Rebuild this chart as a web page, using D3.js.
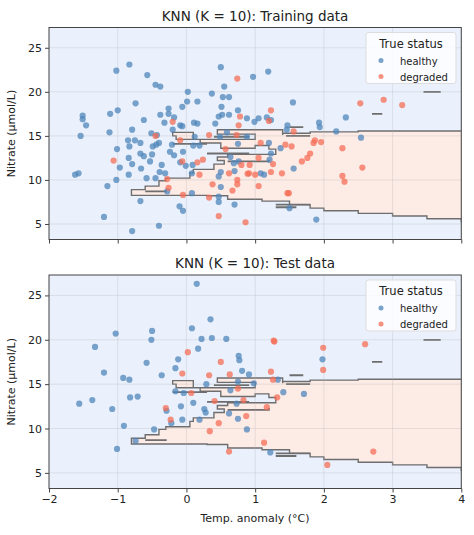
<!DOCTYPE html>
<html><head><meta charset="utf-8">
<script src="https://cdn.jsdelivr.net/npm/d3@7"></script>
<style>body{margin:0;background:#fff}svg{display:block;font-family:"DejaVu Sans",sans-serif}</style>
</head><body><div id="chart"></div>
<script>
"use strict";

const xTicks = [-2, -1, 0, 1, 2, 3, 4];
const yTicks = [5, 10, 15, 20, 25];

// decision region (degraded) outline, data coords
const degradedRegion = [[4,15.55],[2.5,15.45],[1.8,15.3],[1.4,15.1],[1.4,15.7],[0.45,15.6],[0.45,15.2],[1.0,15.1],[1.0,14.6],[0.2,14.6],[0.1,15.4],[-0.2,15.0],[-0.15,14.6],[0.2,14.2],[0.5,13.6],[1.0,13.9],[1.2,13.5],[1.3,12.9],[0.6,12.6],[0.45,12.2],[0.55,11.8],[0.4,11.2],[0.1,10.8],[0.05,10.2],[-0.3,9.9],[-0.4,9.3],[-0.6,8.9],[-0.8,8.4],[-0.8,8.25],[0.3,8.2],[0.6,7.8],[1.1,7.6],[1.5,7.2],[1.8,6.8],[2.0,6.5],[2.5,6.2],[3.0,5.9],[3.5,5.6],[4,5.2]];
const extraLines = [
  [[3.45,20],[3.7,20]], [[2.7,17.5],[2.85,17.5]], [[1.5,16],[1.7,16]],
  [[1.3,7.2],[1.8,7.2]], [[1.3,6.9],[1.6,6.9]], [[1.45,15],[1.8,15]],
  [[0.3,13.0],[0.9,13.1]], [[-0.2,14.1],[0.3,14.1]], [[0.6,12.1],[1.2,12.3]],
  [[-0.6,8.7],[-0.3,8.8]], [[0.4,14.9],[0.9,14.8]]
];

const trainHealthy = [[-1.62,10.6],[-1.57,10.75],[-1.54,15.0],[-1.51,17.3],[-1.51,16.9],[-1.46,16.2],[-1.2,5.8],[-1.15,9.3],[-1.12,15.4],[-1.11,17.5],[-1.02,22.4],[-1.02,10],[-1.01,13.5],[-1.0,17.9],[-0.97,11.4],[-0.83,23.1],[-0.84,12.5],[-0.83,13.8],[-0.85,14.5],[-0.84,10.6],[-0.79,15.7],[-0.79,11.8],[-0.79,4.2],[-0.74,18.7],[-0.75,14.5],[-0.67,14.2],[-0.67,13.0],[-0.66,11.3],[-0.67,7.6],[-0.62,12.7],[-0.62,16.8],[-0.58,10.2],[-0.57,21.9],[-0.53,12.1],[-0.51,15.3],[-0.5,12.9],[-0.49,13.8],[-0.45,20.8],[-0.43,15.1],[-0.45,10.2],[-0.44,14.0],[-0.4,4.8],[-0.39,10.9],[-0.38,20.6],[-0.38,17.4],[-0.4,14.2],[-0.36,11.7],[-0.32,16.5],[-0.31,10.75],[-0.28,8.7],[-0.26,18.1],[-0.26,17.5],[-0.24,13.2],[-0.21,14.0],[-0.18,17.1],[-0.2,15.7],[-0.18,12.8],[-0.1,7.0],[-0.09,16.2],[-0.06,18.3],[-0.06,16.1],[-0.05,13.2],[-0.05,6.5],[-0.09,12.0],[0.02,20],[0.01,18.9],[-0.01,11.6],[0.11,16.5],[0.12,14.9],[0.1,13.9],[0.08,10.75],[0.09,11.7],[0.08,8.5],[0.16,18.9],[0.16,16.4],[0.19,13.9],[0.37,19.8],[0.42,16.4],[0.47,17.2],[0.5,22.8],[0.51,18.3],[0.49,14.9],[0.5,10.9],[0.47,10.4],[0.5,9.2],[0.47,8.1],[0.47,7.5],[0.55,20.6],[0.53,19.4],[0.52,17.4],[0.59,15.4],[0.62,17.4],[0.62,19.4],[0.64,12.6],[0.7,11.0],[0.69,11.9],[0.75,17.9],[0.75,14.1],[0.7,7.2],[0.76,12.1],[0.88,14.9],[0.88,17.0],[0.97,21.7],[0.99,16.6],[1.05,17.0],[1.08,10.75],[1.13,10.6],[1.17,17.1],[1.19,22.3],[1.2,14.2],[1.21,12.3],[1.23,13.0],[1.23,16.8],[1.37,13.6],[1.47,16.2],[1.46,15.7],[1.5,6.8],[1.55,18.8],[1.56,11.3],[1.89,5.5],[1.93,16.5],[1.94,16.0],[2.18,15.5],[2.32,17.1],[2.54,14.8]];
const trainDegraded = [[-1.06,12.2],[-0.45,15.0],[-0.2,16.6],[-0.28,10.1],[-0.26,9.1],[-0.09,14.5],[-0.06,12.1],[-0.05,8.3],[0.16,12.0],[0.19,10.6],[0.24,12.3],[0.33,15.1],[0.33,8.0],[0.38,9.5],[0.47,5.9],[0.57,13.5],[0.62,10.75],[0.67,8.8],[0.74,10.0],[0.74,9.5],[0.74,21.5],[0.73,15.1],[0.76,16.2],[0.78,17.2],[0.8,11.7],[0.86,5.2],[0.91,10.75],[0.92,11.7],[0.89,10.7],[1.0,10.6],[1.05,9.3],[1.05,12.5],[1.08,14.2],[1.23,17.9],[1.2,16.7],[1.23,10.9],[1.26,11.8],[1.39,10.75],[1.44,14.0],[1.47,8.5],[1.49,8.5],[1.53,13.8],[1.56,15.5],[1.68,12.1],[1.76,12.5],[1.8,13.0],[1.85,14.2],[1.87,14.5],[1.96,14.3],[2.27,13.6],[2.27,10.45],[2.3,9.8],[2.53,18.7],[2.56,11.4],[2.87,19.1],[3.14,18.5]];
const testHealthy = [[-1.56,12.8],[-1.37,13.2],[-1.33,19.2],[-1.2,16.3],[-1.08,12.2],[-1.03,20.7],[-1.01,7.7],[-0.92,15.7],[-0.91,10.3],[-0.83,15.5],[-0.82,13.5],[-0.71,13.6],[-0.74,8.6],[-0.58,17.4],[-0.5,21.0],[-0.51,20.0],[-0.47,9.9],[-0.36,16.0],[-0.29,12.0],[-0.22,10.6],[-0.16,14.2],[-0.16,16.8],[-0.12,17.8],[-0.08,12.5],[-0.06,11.0],[-0.04,14.0],[0.08,21.3],[0.1,12.9],[0.15,26.3],[0.17,19.0],[0.19,11.0],[0.22,20.1],[0.26,12.2],[0.28,11.8],[0.29,15.0],[0.35,22.3],[0.37,20.2],[0.58,20.1],[0.62,11.7],[0.64,14.3],[0.73,12.8],[0.75,15.3],[0.76,18.2],[0.77,17.7],[0.75,11.1],[0.81,16.5],[0.88,9.9],[0.91,16.1],[0.98,15.1],[1.22,7.3],[1.33,15.5],[1.41,14.1],[1.71,13.9],[1.98,17.8]];
const testDegraded = [[-0.3,12.3],[-0.23,11.0],[0.02,18.6],[-0.06,16.2],[0.07,14.0],[0.33,16.0],[0.34,9.7],[0.41,13.1],[0.47,10.6],[0.5,17.5],[0.63,16.1],[0.62,7.4],[0.75,14.5],[0.83,13.2],[0.87,11.4],[1.13,8.4],[1.17,12.4],[1.23,16.4],[1.27,19.9],[1.28,19.8],[1.26,15.5],[1.32,13.5],[1.99,19.1],[1.99,16.6],[2.05,5.9],[2.6,19.5],[2.72,7.4]];

const W = 474, H = 535;
const svg = d3.select("#chart").append("svg").attr("width", W).attr("height", H);
const x = d3.scaleLinear().domain([-2, 4]).range([49, 461.3]);

function drawPanel(top, bottom, title, healthy, degraded, showX, id) {
  const y = d3.scaleLinear().domain([3.24, 27.3]).range([bottom, top]);
  const g = svg.append("g");
  g.append("clipPath").attr("id", id).append("rect")
    .attr("x", 49).attr("y", top).attr("width", 412.3).attr("height", bottom - top);
  const inner = g.append("g").attr("clip-path", `url(#${id})`);
  inner.append("rect").attr("x", 49).attr("y", top).attr("width", 412.3).attr("height", bottom - top).attr("fill", "#eaf1fc");
  const line = d3.line().x(d => x(d[0])).y(d => y(d[1])).curve(d3.curveStepAfter);
  const poly = degradedRegion.concat([[4.1, 5.2], [4.1, 15.55]]);
  inner.append("path").attr("d", line(poly) + "Z").attr("fill", "#fdebe6");
  inner.append("path").attr("d", line(degradedRegion)).attr("fill", "none").attr("stroke", "#6e6e6e").attr("stroke-width", 1.4);
  extraLines.forEach(l => inner.append("path").attr("d", line(l)).attr("fill", "none").attr("stroke", "#6e6e6e").attr("stroke-width", 1.8));

  // grid
  xTicks.forEach(t => inner.append("line").attr("x1", x(t)).attr("x2", x(t)).attr("y1", top).attr("y2", bottom).attr("stroke", "#b0b0b0").attr("stroke-opacity", 0.35).attr("stroke-width", 0.8));
  yTicks.forEach(t => inner.append("line").attr("x1", 49).attr("x2", 461.3).attr("y1", y(t)).attr("y2", y(t)).attr("stroke", "#b0b0b0").attr("stroke-opacity", 0.35).attr("stroke-width", 0.8));

  inner.selectAll(".h").data(healthy).join("circle").attr("cx", d => x(d[0])).attr("cy", d => y(d[1])).attr("r", 3.1).attr("fill", "#4f86bb").attr("fill-opacity", 0.75);
  inner.selectAll(".d").data(degraded).join("circle").attr("cx", d => x(d[0])).attr("cy", d => y(d[1])).attr("r", 3.1).attr("fill", "#f46e55").attr("fill-opacity", 0.75);

  g.append("rect").attr("x", 49).attr("y", top).attr("width", 412.3).attr("height", bottom - top).attr("fill", "none").attr("stroke", "#444").attr("stroke-width", 1);

  const ax = g.append("g").attr("transform", `translate(0,${bottom})`)
    .call(d3.axisBottom(x).tickValues(xTicks).tickSize(4).tickFormat(showX ? (d => d < 0 ? "\u2212" + Math.abs(d) : d) : ""));
  const ay = g.append("g").attr("transform", "translate(49,0)")
    .call(d3.axisLeft(y).tickValues(yTicks).tickSize(4));
  [ax, ay].forEach(a => { a.select(".domain").remove(); a.selectAll("text").attr("font-size", 11).attr("fill", "#222").attr("font-family", "DejaVu Sans"); a.selectAll("line").attr("stroke", "#444"); });

  g.append("text").attr("x", 255).attr("y", top - 7).attr("text-anchor", "middle").attr("font-size", 13.5).attr("fill", "#222").text(title);
  g.append("text").attr("transform", `translate(15,${(top + bottom) / 2}) rotate(-90)`).attr("text-anchor", "middle").attr("font-size", 11).attr("fill", "#222").text("Nitrate (\u00b5mol/L)");

  // legend
  const lg = g.append("g").attr("transform", `translate(366,${top + 5})`);
  lg.append("rect").attr("width", 90).attr("height", 51).attr("rx", 2.5).attr("fill", "#fff").attr("fill-opacity", 0.8).attr("stroke", "#ddd");
  lg.append("text").attr("x", 45).attr("y", 15).attr("text-anchor", "middle").attr("font-size", 11.5).attr("fill", "#222").text("True status");
  [["healthy", "#4f86bb"], ["degraded", "#f46e55"]].forEach((e, i) => {
    lg.append("circle").attr("cx", 15).attr("cy", 28 + i * 16).attr("r", 2.5).attr("fill", e[1]).attr("fill-opacity", 0.75);
    lg.append("text").attr("x", 34).attr("y", 32 + i * 16).attr("font-size", 10).attr("fill", "#222").text(e[0]);
  });
  if (showX) g.append("text").attr("x", 255).attr("y", bottom + 33).attr("text-anchor", "middle").attr("font-size", 11).attr("fill", "#222").text("Temp. anomaly (\u00b0C)");
}

drawPanel(27.5, 239.5, "KNN (K = 10): Training data", trainHealthy, trainDegraded, false, "c1");
drawPanel(275, 488.5, "KNN (K = 10): Test data", testHealthy, testDegraded, true, "c2");
</script></body></html>
